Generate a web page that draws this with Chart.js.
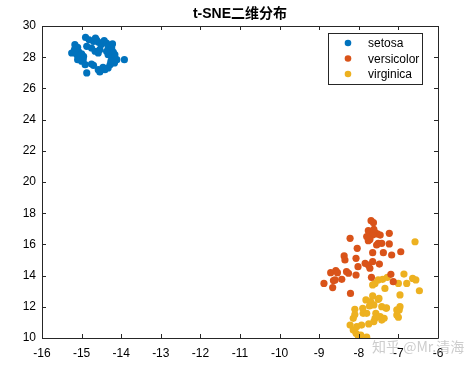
<!DOCTYPE html>
<html>
<head>
<meta charset="utf-8">
<script src="https://cdn.jsdelivr.net/npm/chart.js@4"></script>
<style>
  body { margin: 0; background: #fff; }
  #wrap { width: 474px; height: 366px; }
</style>
</head>
<body>
<div id="wrap"><canvas id="tsne" width="474" height="366"></canvas></div>
<script>
// t-SNE coordinates
const setosaX = [-14.90, -14.81, -14.70, -14.65, -14.58, -14.51, -14.43, -14.37, -14.33, -15.17,
  -15.10, -15.18, -15.08, -15.12, -15.04, -15.10, -15.00, -14.96, -14.87, -14.75,
  -14.66, -14.58, -14.54, -14.24, -14.20, -14.16, -14.24, -14.11, -14.17, -14.28,
  -14.33, -14.41, -14.58, -14.54, -13.92, -14.91, -14.87, -14.75, -14.70, -14.37,
  -14.33, -15.25, -15.00, -14.26, -14.46, -14.95, -14.62, -14.22];
const setosaY = [29.27, 29.12, 29.02, 29.23, 28.97, 28.80, 29.06, 28.91, 28.70, 28.80,
  28.63, 28.48, 28.38, 28.16, 27.99, 27.84, 27.74, 27.84, 28.70, 28.59,
  28.38, 28.27, 28.48, 28.59, 28.33, 28.16, 27.95, 27.84, 27.63, 27.52,
  27.31, 27.20, 27.20, 27.05, 27.84, 27.52, 26.99, 27.56, 27.48, 28.38,
  28.16, 28.27, 28.21, 27.74, 27.35, 28.05, 29.10, 28.85];

const versicolorX = [-7.69, -7.63, -7.76, -7.68, -7.59, -7.53, -7.46, -7.72, -7.65, -7.23,
  -8.22, -7.76, -7.72, -7.51, -7.42, -7.23, -7.55, -8.04, -7.65, -7.38,
  -7.17, -6.94, -8.37, -8.35, -8.07, -7.84, -7.76, -7.72, -7.65, -7.48,
  -8.71, -8.58, -8.54, -8.64, -8.60, -8.31, -8.26, -8.07, -7.68, -8.88,
  -8.66, -8.21, -7.19, -7.13, -7.62, -7.80, -8.02, -8.43];
const versicolorY = [17.52, 17.39, 16.88, 16.82, 16.75, 16.67, 16.60, 16.71, 16.60, 16.71,
  16.39, 16.24, 16.32, 16.07, 16.07, 16.03, 15.96, 15.75, 15.47, 15.47,
  15.32, 15.53, 15.26, 15.00, 15.11, 14.79, 14.68, 14.47, 14.89, 14.74,
  14.19, 14.32, 14.19, 13.68, 13.72, 14.25, 14.15, 14.04, 13.89, 13.50,
  13.23, 12.86, 14.08, 13.61, 16.97, 16.50, 14.57, 13.76];

const virginicaX = [-6.86, -6.64, -6.56, -6.47, -7.51, -7.59, -7.65, -7.40, -7.28, -7.34,
  -7.00, -6.79, -6.96, -7.82, -7.70, -7.51, -7.62, -7.42, -7.31, -8.10,
  -7.89, -7.80, -7.57, -7.59, -7.46, -7.36, -7.73, -7.04, -7.00, -7.62,
  -8.14, -8.22, -8.05, -7.93, -8.14, -8.07, -8.01, -7.95, -7.80, -6.96,
  -6.58, -7.49, -7.42, -7.04, -7.30, -7.90, -7.75, -7.65, -8.10, -6.98];
const virginicaY = [14.10, 13.82, 13.72, 13.03, 13.72, 13.50, 13.40, 13.76, 13.89, 13.18,
  13.50, 13.50, 12.76, 12.44, 12.33, 12.48, 12.12, 12.01, 11.90, 11.84,
  11.58, 11.58, 11.58, 11.26, 11.37, 11.26, 12.05, 11.80, 11.33, 11.05,
  11.26, 10.83, 10.73, 10.83, 10.51, 10.30, 10.09, 10.19, 10.05, 12.01,
  16.17, 12.54, 11.15, 11.47, 11.94, 11.90, 10.90, 12.70, 11.50, 11.80];

const seriesNames = ['setosa', 'versicolor', 'virginica'];
const seriesColors = ['#0072BD', '#D95319', '#EDB120'];
const xTicks = [-16, -15, -14, -13, -12, -11, -10, -9, -8, -7, -6];
const yTicks = [10, 12, 14, 16, 18, 20, 22, 24, 26, 28, 30];
const titleText = 't-SNE二维分布';

const fontFam = '"Liberation Sans", Arial, "Noto Sans CJK SC", sans-serif';

function toPoints(xs, ys){
    let pts = [];
    for(let i = 0; i < xs.length; i++){
        pts.push({x: xs[i], y: ys[i]});
    }
    return pts;
}

const allX = [setosaX, versicolorX, virginicaX];
const allY = [setosaY, versicolorY, virginicaY];

let datasets = [];
for(let i = 0; i < 3; i++){
    datasets.push({
        label: seriesNames[i],
        data: toPoints(allX[i], allY[i]),
        backgroundColor: seriesColors[i],
        borderWidth: 0,
        pointRadius: 3.6,
        pointHoverRadius: 3.6
    });
}

// box, inside ticks, title, legend and the watermark (MATLAB look)
const matlabAxes = {
    id: 'matlabAxes',
    afterDraw(chart){
        const ctx = chart.ctx;
        const a = chart.chartArea;
        const xs = chart.scales.x, ys = chart.scales.y;
        ctx.save();
        ctx.strokeStyle = '#262626';
        ctx.lineWidth = 1;
        ctx.beginPath();
        ctx.rect(Math.round(a.left) + 0.5, Math.round(a.top) + 0.5,
                 Math.round(a.right - a.left), Math.round(a.bottom - a.top));
        ctx.stroke();
        ctx.beginPath();
        xTicks.forEach(v => {
            let px = Math.round(xs.getPixelForValue(v)) + 0.5;
            ctx.moveTo(px, a.bottom); ctx.lineTo(px, a.bottom - 4);
            ctx.moveTo(px, a.top); ctx.lineTo(px, a.top + 4);
        });
        yTicks.forEach(v => {
            let py = Math.round(ys.getPixelForValue(v)) + 0.5;
            ctx.moveTo(a.left, py); ctx.lineTo(a.left + 4, py);
            ctx.moveTo(a.right, py); ctx.lineTo(a.right - 4, py);
        });
        ctx.stroke();

        // title
        ctx.fillStyle = '#000';
        ctx.font = 'bold 14px ' + fontFam;
        ctx.textAlign = 'center';
        ctx.textBaseline = 'middle';
        ctx.fillText(titleText, (a.left + a.right) / 2, 14);

        // legend
        const lx = 328, ly = 33, lw = 94, lh = 51;
        ctx.fillStyle = '#fff';
        ctx.fillRect(lx, ly, lw, lh);
        ctx.strokeStyle = '#262626';
        ctx.strokeRect(lx + 0.5, ly + 0.5, lw, lh);
        ctx.font = '12px ' + fontFam;
        ctx.textAlign = 'left';
        for(let i = 0; i < seriesNames.length; i++){
            let cy = ly + 10 + i * 15.5;
            ctx.fillStyle = seriesColors[i];
            ctx.beginPath();
            ctx.arc(lx + 20, cy, 3.3, 0, Math.PI * 2);
            ctx.fill();
            ctx.fillStyle = '#000';
            ctx.fillText(seriesNames[i], lx + 40, cy + 1);
        }

        // watermark
        ctx.fillStyle = 'rgba(170,170,170,0.6)';
        ctx.font = '14px "Noto Sans CJK SC", sans-serif';
        ctx.textAlign = 'left';
        ctx.fillText('知乎 @Mr.清海', 372, 347);
        ctx.restore();
    }
};

let chart = new Chart(document.getElementById('tsne'), {
    type: 'scatter',
    data: { datasets: datasets },
    options: {
        responsive: false,
        animation: false,
        layout: { padding: { top: 26, right: 36, left: 0, bottom: 0 } },
        plugins: {
            legend: { display: false },
            title: { display: false },
            tooltip: { enabled: false }
        },
        scales: {
            x: {
                type: 'linear',
                min: -16, max: -6,
                afterBuildTicks: (s) => { s.ticks = xTicks.map(v => ({value: v})); },
                afterFit: (s) => { s.height = 28; },
                grid: { display: false, drawTicks: false },
                border: { display: false },
                ticks: {
                    color: '#000',
                    padding: 8,
                    maxRotation: 0,
                    autoSkip: false,
                    font: { family: fontFam, size: 12 }
                }
            },
            y: {
                type: 'linear',
                min: 10, max: 30,
                afterBuildTicks: (s) => { s.ticks = yTicks.map(v => ({value: v})); },
                afterFit: (s) => { s.width = 42; },
                grid: { display: false, drawTicks: false },
                border: { display: false },
                ticks: {
                    color: '#000',
                    padding: 6,
                    autoSkip: false,
                    font: { family: fontFam, size: 12 }
                }
            }
        }
    },
    plugins: [matlabAxes]
});
</script>
</body>
</html>
